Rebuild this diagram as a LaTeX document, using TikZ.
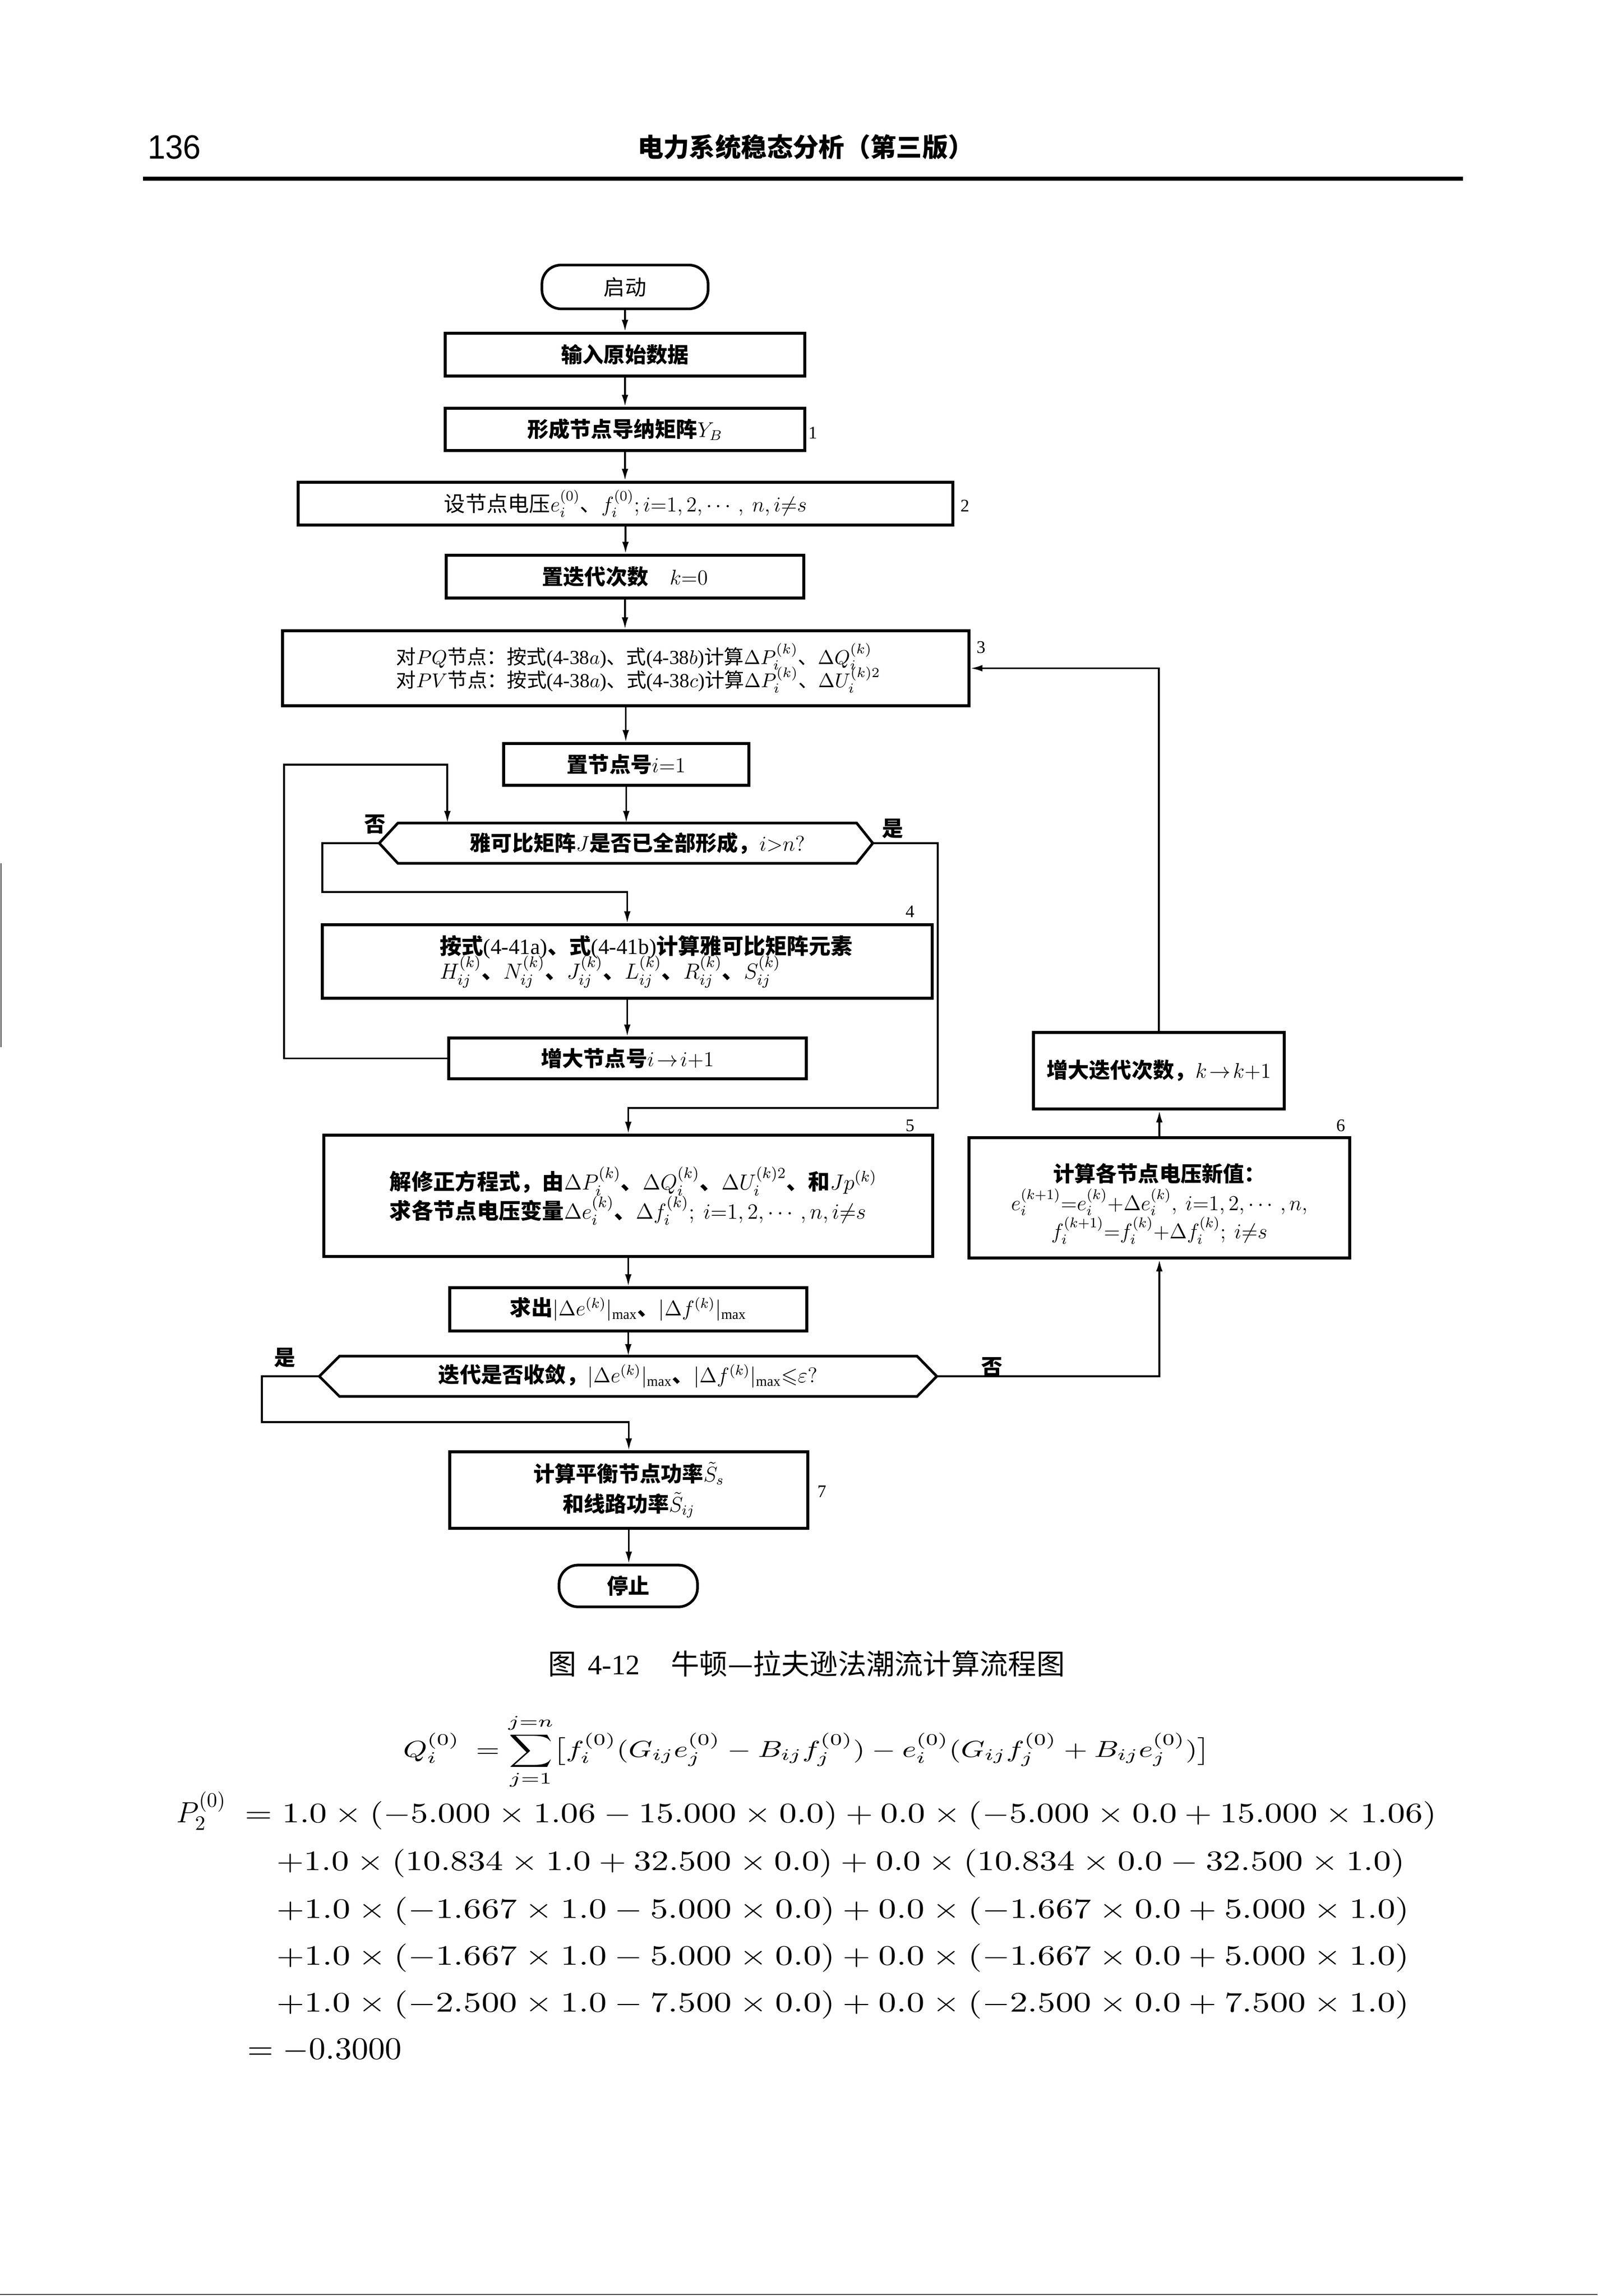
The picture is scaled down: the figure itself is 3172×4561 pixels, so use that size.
\RequirePackage{fix-cm}
\documentclass[tikz,border=0pt]{standalone}
\usepackage{amsmath,amssymb}
\usepackage{graphicx}
\usepackage{fontspec}
\setmainfont{Liberation Serif}
\newfontfamily\cjk{Noto Sans CJK SC}
\newfontfamily\hdsans{Liberation Sans}
\usetikzlibrary{arrows.meta}
\newcommand\latn[1]{\textnormal{#1}}
\lineskiplimit=-30pt
\tikzset{
  wh/.style 2 args={minimum width={#1*0.01cm},minimum height={#2*0.01cm}},
  fr/.style={font={\cjk\fontsize{12}{14.5}\selectfont}},
  fb/.style={font={\cjk\bfseries\fontsize{12}{14.5}\selectfont}},
  box/.style={draw,line width=1.5pt,inner sep=1pt},
  term/.style={box,rounded corners=0.38cm},
  hex/.style={inner sep=0pt,outer sep=0pt},
  hexline/.style={line width=1.5pt,line join=miter},
  arr/.style={line width=1.1pt,-{Latex[length=0.24cm,width=0.13cm]}},
  num/.style={inner sep=0pt,font={\fontsize{10}{12}\selectfont}},
  yn/.style={inner sep=0pt,font={\cjk\bfseries\fontsize{12}{14}\selectfont}},
  eqn/.style={anchor=base west,inner sep=0pt},
  edge/.style={line width=0.7pt,black!75}
}
\begin{document}
\begin{tikzpicture}[x=0.01cm,y=-0.01cm]
\fill[white] (0,0) rectangle (3172,4561);
\useasboundingbox (0,0) rectangle (3172,4561);

% scan edges
\draw[edge] (0,4558) -- (3172,4558);
\draw[edge] (2,1715) -- (2,2080);

% header
\node[anchor=base,inner sep=0pt] (pg) at (346,316) {\hdsans\fontsize{19}{20}\selectfont\scalebox{0.95}[1]{136}};
\node[anchor=base,inner sep=0pt,font={\cjk\bfseries\fontsize{14.6}{16}\selectfont}] (ttl) at (1600,312) {电力系统稳态分析（第三版）};
\draw[line width=2pt] (284,355) -- (2905,355);

% flowchart nodes
\node[term,fr,wh={330}{87}] (start) at (1241,570) {启动};
\node[box,fb,wh={714}{85}] (bin) at (1241,704.5) {输入原始数据};
\node[box,fb,wh={714}{84}] (b1) at (1241,853) {形成节点导纳矩阵$Y_B$};
\node[box,fr,wh={1300}{85}] (b2) at (1242,1000.5) {设节点电压$e_i^{(0)}$、$f_i^{(0)};i{=}1,2,\cdots,\ n,i{\neq}s$};
\node[box,fb,wh={710}{85}] (bk0) at (1241,1145.5) {置迭代次数\quad$k{=}0$};
\node[box,wh={1363}{149},align=left,font={\cjk\fontsize{11.2}{13.2}\selectfont}] (b3) at (1242.5,1327.5)
  {\hspace*{0.5cm}对$PQ$节点：按式\latn{(4-38$a$)}、式\latn{(4-38$b$)}计算$\Delta P_i^{(k)}$、$\Delta Q_i^{(k)}$\\
   \hspace*{0.5cm}对$PV$节点：按式\latn{(4-38$a$)}、式\latn{(4-38$c$)}计算$\Delta P_i^{(k)}$、$\Delta U_i^{(k)2}$};
\node[box,fb,wh={487}{83}] (bi1) at (1243.5,1518.5) {置节点号$i{=}1$};
\node[hex,fb,wh={980}{80}] (d1) at (1243,1675) {\hspace*{0.45cm}雅可比矩阵$J$是否已全部形成，$i{>}n?$};
\draw[hexline] (d1.west) -- ([xshift=0.37cm]d1.north west) -- ([xshift=-0.32cm]d1.north east) -- (d1.east)
  -- ([xshift=-0.32cm]d1.south east) -- ([xshift=0.37cm]d1.south west) -- cycle;
\node[box,wh={1211}{146},align=left,font={\cjk\bfseries\fontsize{12.3}{13.8}\selectfont}] (b4) at (1245.5,1910)
  {\hspace*{0.75cm}按式\latn{(4-41a)}、式\latn{(4-41b)}计算雅可比矩阵元素\\
   \hspace*{0.75cm}$H_{ij}^{(k)}$、$N_{ij}^{(k)}$、$J_{ij}^{(k)}$、$L_{ij}^{(k)}$、$R_{ij}^{(k)}$、$S_{ij}^{(k)}$};
\node[box,fb,wh={710}{81}] (binc) at (1246,2102.5) {增大节点号$i\!\rightarrow\! i{+}1$};
\node[box,wh={1209}{241},align=left,font={\cjk\bfseries\fontsize{12.3}{16.5}\selectfont}] (b5) at (1247.5,2375.5)
  {\hspace*{0.2cm}解修正方程式，由$\Delta P_i^{(k)}$、$\Delta Q_i^{(k)}$、$\Delta U_i^{(k)2}$、和$Jp^{(k)}$\\
   \hspace*{0.2cm}求各节点电压变量$\Delta e_i^{(k)}$、$\Delta f_i^{(k)};\ i{=}1,2,\cdots,n,i{\neq}s$};
\node[box,fb,wh={709}{86}] (bmax) at (1247.5,2601) {求出$|\Delta e^{(k)}|_{\max}$、$|\Delta f^{(k)}|_{\max}$};
\node[hex,fb,wh={1226}{80}] (d2) at (1247,2734) {迭代是否收敛，$|\Delta e^{(k)}|_{\max}$、$|\Delta f^{(k)}|_{\max}{\leqslant}\varepsilon?$};
\draw[hexline] (d2.west) -- ([xshift=0.40cm]d2.north west) -- ([xshift=-0.39cm]d2.north east) -- (d2.east)
  -- ([xshift=-0.39cm]d2.south east) -- ([xshift=0.40cm]d2.south west) -- cycle;
\node[box,wh={711}{152},align=center,font={\cjk\bfseries\fontsize{12}{17}\selectfont}] (b7) at (1248.5,2960)
  {计算平衡节点功率$\tilde{S}_s$\\和线路功率$\tilde{S}_{ij}$};
\node[term,fb,wh={275}{83}] (stop) at (1247.5,3150.5) {停止};
\node[box,fb,wh={498}{152}] (bk1) at (2301,2127) {增大迭代次数，$k\!\rightarrow\! k{+}1$};
\node[box,wh={756}{239},align=center,font={\cjk\fontsize{12}{16}\selectfont}] (b6) at (2302,2379.5)
  {\rule{0pt}{17pt}{\bfseries 计算各节点电压新值：}\\
   $e_i^{(k+1)}{=}e_i^{(k)}{+}\Delta e_i^{(k)},\ i{=}1,2,\cdots,n,$\\
   $f_i^{(k+1)}{=}f_i^{(k)}{+}\Delta f_i^{(k)};\ i{\neq}s$};

% bend points
\coordinate (cL) at (564,1519);
\coordinate (cA) at (640,1772);
\coordinate (cB) at (1862,2201);
\coordinate (cC) at (520,2825);

% connectors
\draw[arr] (start.south) -- (start.south |- bin.north);
\draw[arr] (bin.south) -- (bin.south |- b1.north);
\draw[arr] (b1.south) -- (b1.south |- b2.north);
\draw[arr] (b2.south) -- (b2.south |- bk0.north);
\draw[arr] (bk0.south) -- (bk0.south |- b3.north);
\draw[arr] (b3.south) -- (b3.south |- bi1.north);
\draw[arr] (bi1.south) -- (bi1.south |- d1.north);
\draw[arr] (d1.west) -| (cA) -| (b4.north);
\draw[arr] (b4.south) -- (b4.south |- binc.north);
\draw[arr] (binc.west) -| (cL) -| (d1.north -| binc.west);
\draw[arr] (d1.east) -| (cB) -| (b5.north);
\draw[arr] (b5.south) -- (b5.south |- bmax.north);
\draw[arr] (bmax.south) -- (bmax.south |- d2.north);
\draw[arr] (d2.west) -| (cC) -| (b7.north);
\draw[arr] (b7.south) -- (b7.south |- stop.north);
\draw[arr] (d2.east) -| (b6.south);
\draw[arr] (b6.north) -- (b6.north |- bk1.south);
\draw[arr] (bk1.north) |- (b3.east);

% labels
\node[num] (n1) at (1614,860) {1};
\node[num] (n2) at (1916,1005) {2};
\node[num] (n3) at (1948,1286) {3};
\node[num] (n4) at (1807,1811) {4};
\node[num] (n5) at (1807,2236) {5};
\node[num] (n6) at (2662,2236) {6};
\node[num] (n7) at (1632,2963) {7};
\node[yn] (no1) at (745,1637) {否};
\node[yn] (yes1) at (1773,1646) {是};
\node[yn] (yes2) at (566,2697) {是};
\node[yn] (no2) at (1970,2715) {否};

% caption
\node[anchor=base west,inner sep=0pt,font={\cjk\fontsize{16}{18}\selectfont}] (cap) at (1088,3326)
  {图\hspace{0.4em}\latn{4-12}\hspace{1.1em}牛顿—拉夫逊法潮流计算流程图};

% equations
\node[eqn] (qeq) at (800,3490) {\resizebox{16.01cm}{0.85cm}{$\displaystyle Q_i^{(0)}\ =\sum\limits_{j=1}^{j=n}\bigl[f_i^{(0)}(G_{ij}e_j^{(0)}-B_{ij}f_j^{(0)})-e_i^{(0)}(G_{ij}f_j^{(0)}+B_{ij}e_j^{(0)})\bigr]$}};
\node[eqn] (p2) at (350,3620) {\fontsize{16.5}{18}\selectfont$P_2^{(0)}$};
\node[eqn] (pl1) at (486,3620) {\resizebox{23.64cm}{0.42cm}{$=1.0\times(-5.000\times1.06-15.000\times0.0)+0.0\times(-5.000\times0.0+15.000\times1.06)$}};
\node[eqn] (pl2) at (549,3715) {\resizebox{22.38cm}{0.42cm}{$+1.0\times(10.834\times1.0+32.500\times0.0)+0.0\times(10.834\times0.0-32.500\times1.0)$}};
\node[eqn] (pl3) at (549,3810) {\resizebox{22.47cm}{0.42cm}{$+1.0\times(-1.667\times1.0-5.000\times0.0)+0.0\times(-1.667\times0.0+5.000\times1.0)$}};
\node[eqn] (pl4) at (549,3903) {\resizebox{22.47cm}{0.42cm}{$+1.0\times(-1.667\times1.0-5.000\times0.0)+0.0\times(-1.667\times0.0+5.000\times1.0)$}};
\node[eqn] (pl5) at (549,3996) {\resizebox{22.47cm}{0.42cm}{$+1.0\times(-2.500\times1.0-7.500\times0.0)+0.0\times(-2.500\times0.0+7.500\times1.0)$}};
\node[eqn] (pl6) at (491,4090) {\resizebox{3.06cm}{0.40cm}{$=-0.3000$}};
\end{tikzpicture}
\end{document}
